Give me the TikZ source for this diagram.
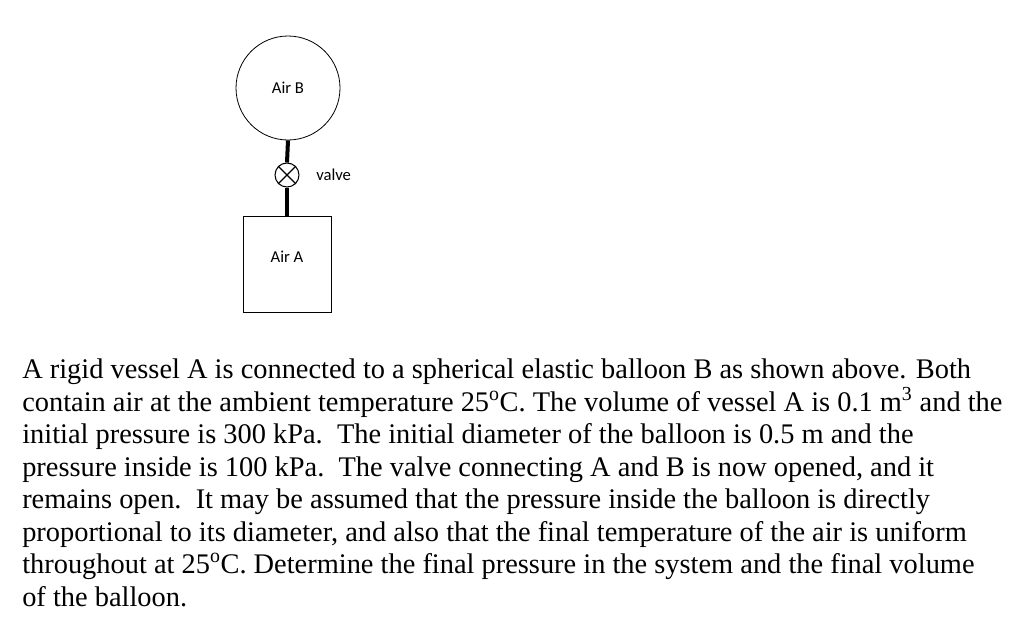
\documentclass[tikz,border=0pt]{standalone}
\usepackage{fontspec}
\setmainfont{Liberation Serif}
\newfontfamily\carlitofont{Carlito}
\begin{document}
\begin{tikzpicture}[x=0.75pt,y=-0.75pt,
  lbl/.style={font=\carlitofont\fontsize{12.5}{14}\selectfont,inner sep=0pt},
  txt/.style={anchor=base west,inner sep=0pt,font=\fontsize{21.3}{25}\selectfont}]
\useasboundingbox (0,0) rectangle (1024,633);
\node[draw,circle,minimum size=78pt,inner sep=0pt,line width=0.6pt] (B) at (288,88) {};
\node[lbl] (lb) at (288,88) {Air B};
\node[draw,circle,minimum size=18pt,line width=0.8pt,inner sep=0pt] (V) at (287,175) {};
\draw[line width=0.9pt] (V.north west) -- (V.south east) (V.north east) -- (V.south west);
\node[draw,minimum width=66pt,minimum height=72pt,inner sep=0pt,line width=0.6pt,anchor=north] (A) at (287,216) {};
\node[lbl] (la) at (287,257) {Air A};
\node[lbl,anchor=west] (lv) at (316,175) {valve};
\draw[line width=3pt] (B.south) -- (V.north);
\draw[line width=3pt] (V.south) -- (A.north);
\node[txt] (t1) at (22,378) {A rigid vessel A is connected to a spherical elastic balloon B as shown above. Both};
\node[txt] (t2) at (22,411) {contain air at the ambient temperature 25\textsuperscript{o}C. The volume of vessel A is 0.1 m\textsuperscript{3} and the};
\node[txt] (t3) at (22,443) {initial pressure is 300 kPa.\ \ The initial diameter of the balloon is 0.5 m and the};
\node[txt] (t4) at (22,476) {pressure inside is 100 kPa.\ \ The valve connecting A and B is now opened, and it};
\node[txt] (t5) at (22,508) {remains open.\ \ It may be assumed that the pressure inside the balloon is directly};
\node[txt] (t6) at (22,541) {proportional to its diameter, and also that the final temperature of the air is uniform};
\node[txt] (t7) at (22,573) {throughout at 25\textsuperscript{o}C. Determine the final pressure in the system and the final volume};
\node[txt] (t8) at (22,606) {of the balloon.};
\end{tikzpicture}
\end{document}
